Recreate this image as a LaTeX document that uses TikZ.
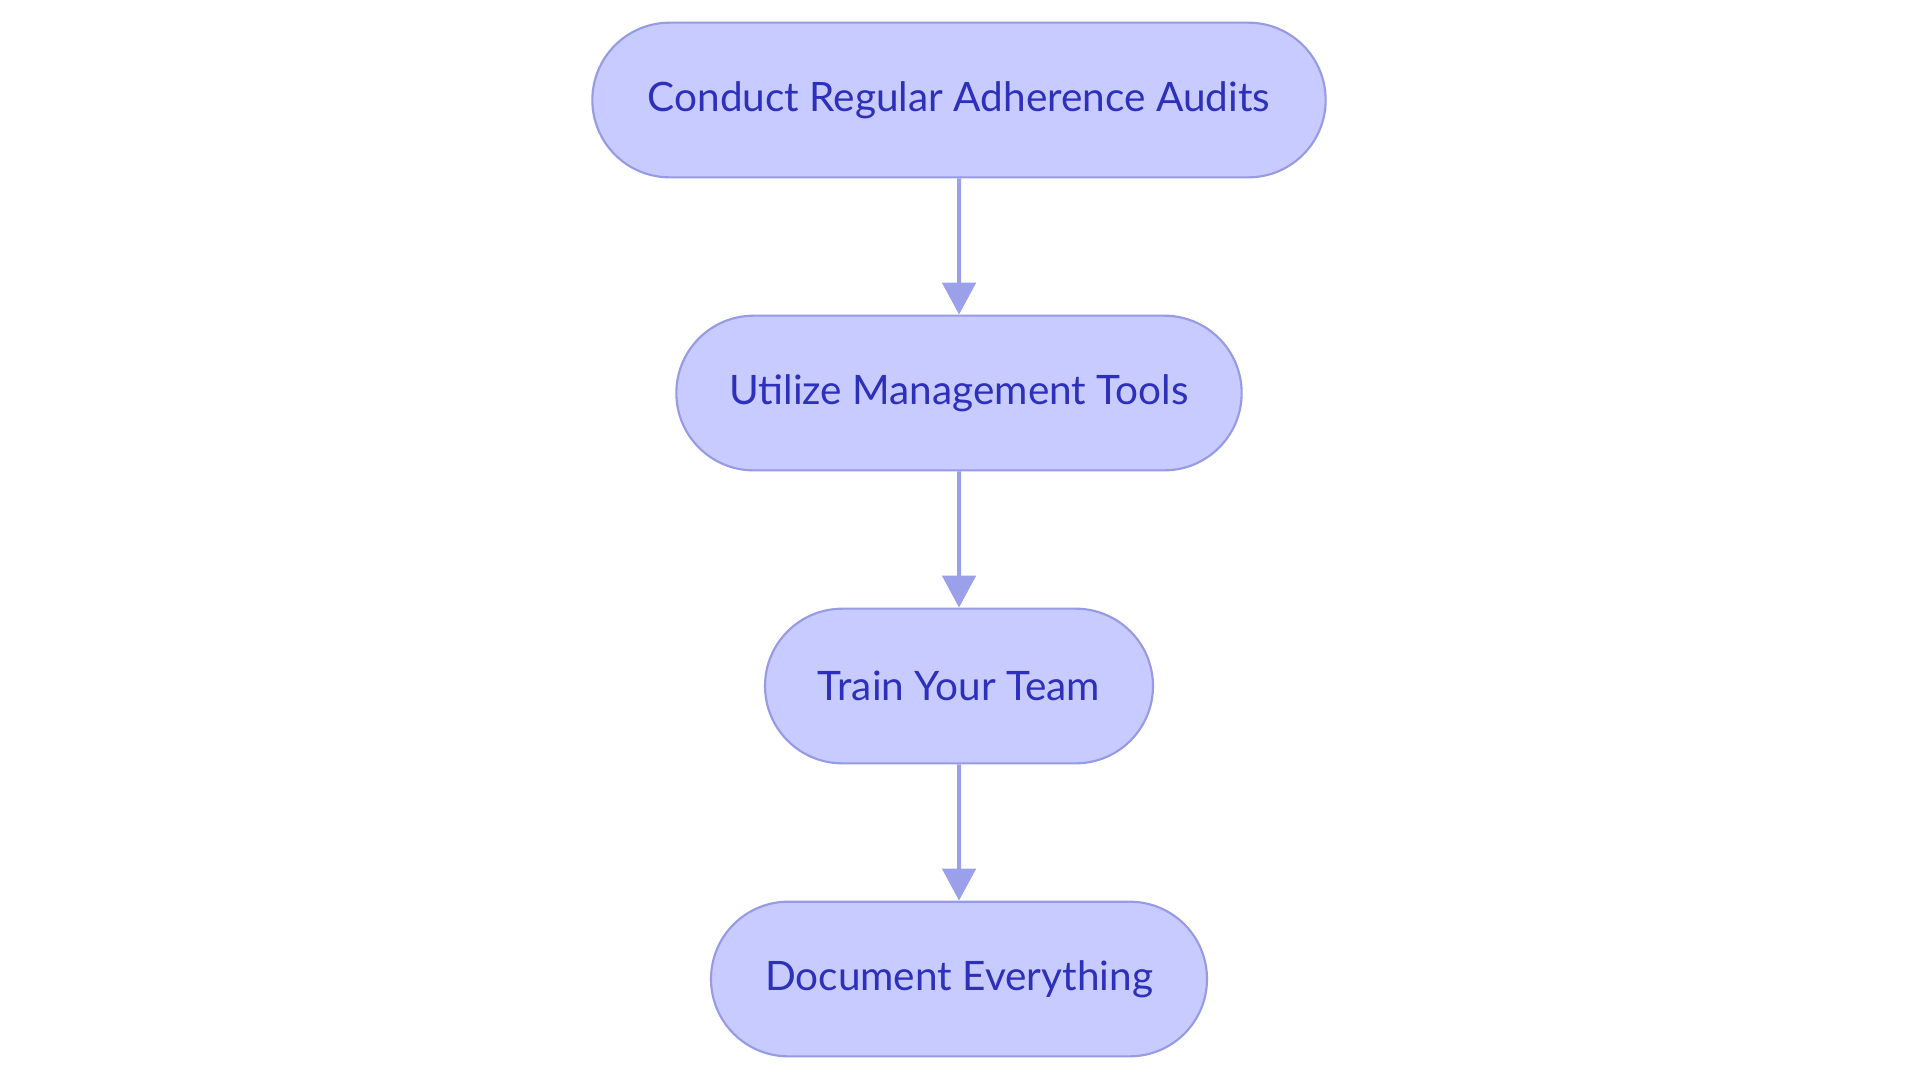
\documentclass[tikz,border=0pt]{standalone}
\usepackage{fontspec}
\setmainfont{Lato}
\usepackage{tikz}
\usetikzlibrary{arrows.meta}
\usetikzlibrary{shapes.misc}
\usetikzlibrary{positioning}
\definecolor{boxfill}{RGB}{200,203,255}
\definecolor{boxline}{RGB}{150,155,228}
\definecolor{boxtext}{RGB}{45,48,185}
\definecolor{arrowcol}{RGB}{155,160,235}
\tikzset{stepnode/.style = {rounded rectangle, draw=boxline, fill=boxfill, line width=1.6pt, text=boxtext, font=\fontsize{30.4}{36}\selectfont, minimum height=116pt, inner sep=0}}
\tikzset{flow/.style = {draw=arrowcol, line width=3pt, -{Triangle[length=24pt,width=25pt]}}}

\begin{document}
\begin{tikzpicture}[x=0.75pt,y=-0.75pt]
        \useasboundingbox (0,0) rectangle (1920,1083);
        \node [stepnode, minimum width=550pt] (audits) at (959,100) {Conduct Regular Adherence Audits};
        \node [stepnode, minimum width=424pt] (tools) at (959,393) {Utilize Management Tools};
        \node [stepnode, minimum width=291pt] (train) at (959,686) {Train Your Team};
        \node [stepnode, minimum width=372pt] (document) at (959,979) {Document Everything};
        \draw [flow] (audits) -- (tools);
        \draw [flow] (tools) -- (train);
        \draw [flow] (train) -- (document);
    \end{tikzpicture}
\end{document}
